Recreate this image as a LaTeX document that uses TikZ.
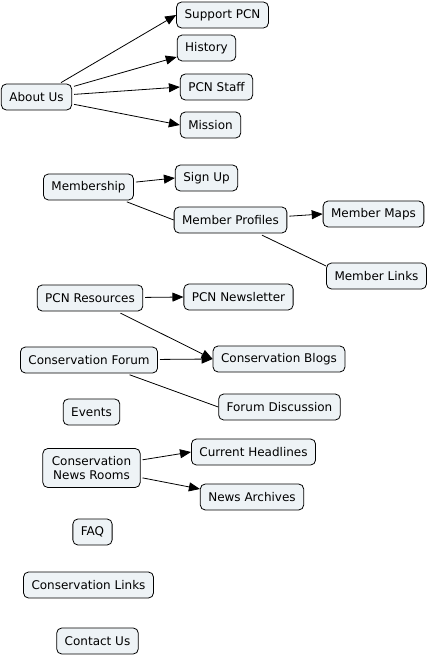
\documentclass[tikz,border=0pt]{standalone}
\usepackage{fontspec}
\setmainfont{DejaVu Sans}
\usetikzlibrary{arrows.meta}
\definecolor{cmapfill}{RGB}{238,243,246}
\begin{document}
\begin{tikzpicture}[x=1pt,y=-1pt,
    concept/.style={draw, fill=cmapfill, rounded corners=5pt, line width=0.8pt,
        inner xsep=8pt, inner ysep=3pt, minimum height=26pt, align=center,
        font=\fontsize{12}{14}\selectfont},
    link/.style={line width=0.8pt, shorten <=2pt, -{Triangle[length=11pt,width=9pt]}},
    plain/.style={line width=0.8pt, shorten <=4pt}]
    \useasboundingbox (0,0) rectangle (429,656);
    % about us
    \node[concept] (about) at (36.5,97) {About Us};
    \node[concept] (support) at (222.5,15) {Support PCN};
    \node[concept] (history) at (206.5,48) {History};
    \node[concept] (staff) at (216.5,87) {PCN Staff};
    \node[concept] (mission) at (210.5,125) {Mission};
    \draw[link] (about) -- (support.west);
    \draw[link] (about) -- ([yshift=-9pt]history.west);
    \draw[link] (about) -- (staff.west);
    \draw[link] (about) -- (mission.west);
    % membership
    \node[concept] (member) at (88.5,187) {Membership};
    \node[concept] (signup) at (206.5,178) {Sign Up};
    \node[concept] (profiles) at (230.5,220) {Member Profiles};
    \node[concept] (maps) at (373.5,214) {Member Maps};
    \node[concept] (links) at (376.5,276) {Member Links};
    \draw[link] (member) -- (signup.west);
    \draw[plain] (member) -- (profiles.west);
    \draw[link] (profiles) -- (maps.west);
    \draw[plain] (profiles) -- ([yshift=10pt]links.west);
    % resources
    \node[concept] (resources) at (90,298) {PCN Resources};
    \node[concept] (newsletter) at (238.5,297) {PCN Newsletter};
    \node[concept] (forum) at (89,360) {Conservation Forum};
    \node[concept] (blogs) at (279,359) {Conservation Blogs};
    \node[concept] (events) at (91.5,412) {Events};
    \node[concept] (discussion) at (279.5,407) {Forum Discussion};
    \draw[link] (resources) -- (newsletter.west);
    \draw[link, shorten <=4pt] (resources) -- (blogs.west);
    \draw[link] (forum) -- (blogs.west);
    \draw[plain] (forum) -- (discussion.west);
    % news
    \node[concept, minimum height=39pt, inner xsep=9pt] (news) at (91.5,468) {Conservation\\News Rooms};
    \node[concept] (headlines) at (253.5,452) {Current Headlines};
    \node[concept] (archives) at (252,497) {News Archives};
    \draw[link] (news) -- (headlines.west);
    \draw[link] (news) -- ([yshift=8pt]archives.west);
    % the rest
    \node[concept] (faq) at (92.5,532) {FAQ};
    \node[concept] (conlinks) at (88.5,585) {Conservation Links};
    \node[concept] (contact) at (97.5,641) {Contact Us};
\end{tikzpicture}
\end{document}
